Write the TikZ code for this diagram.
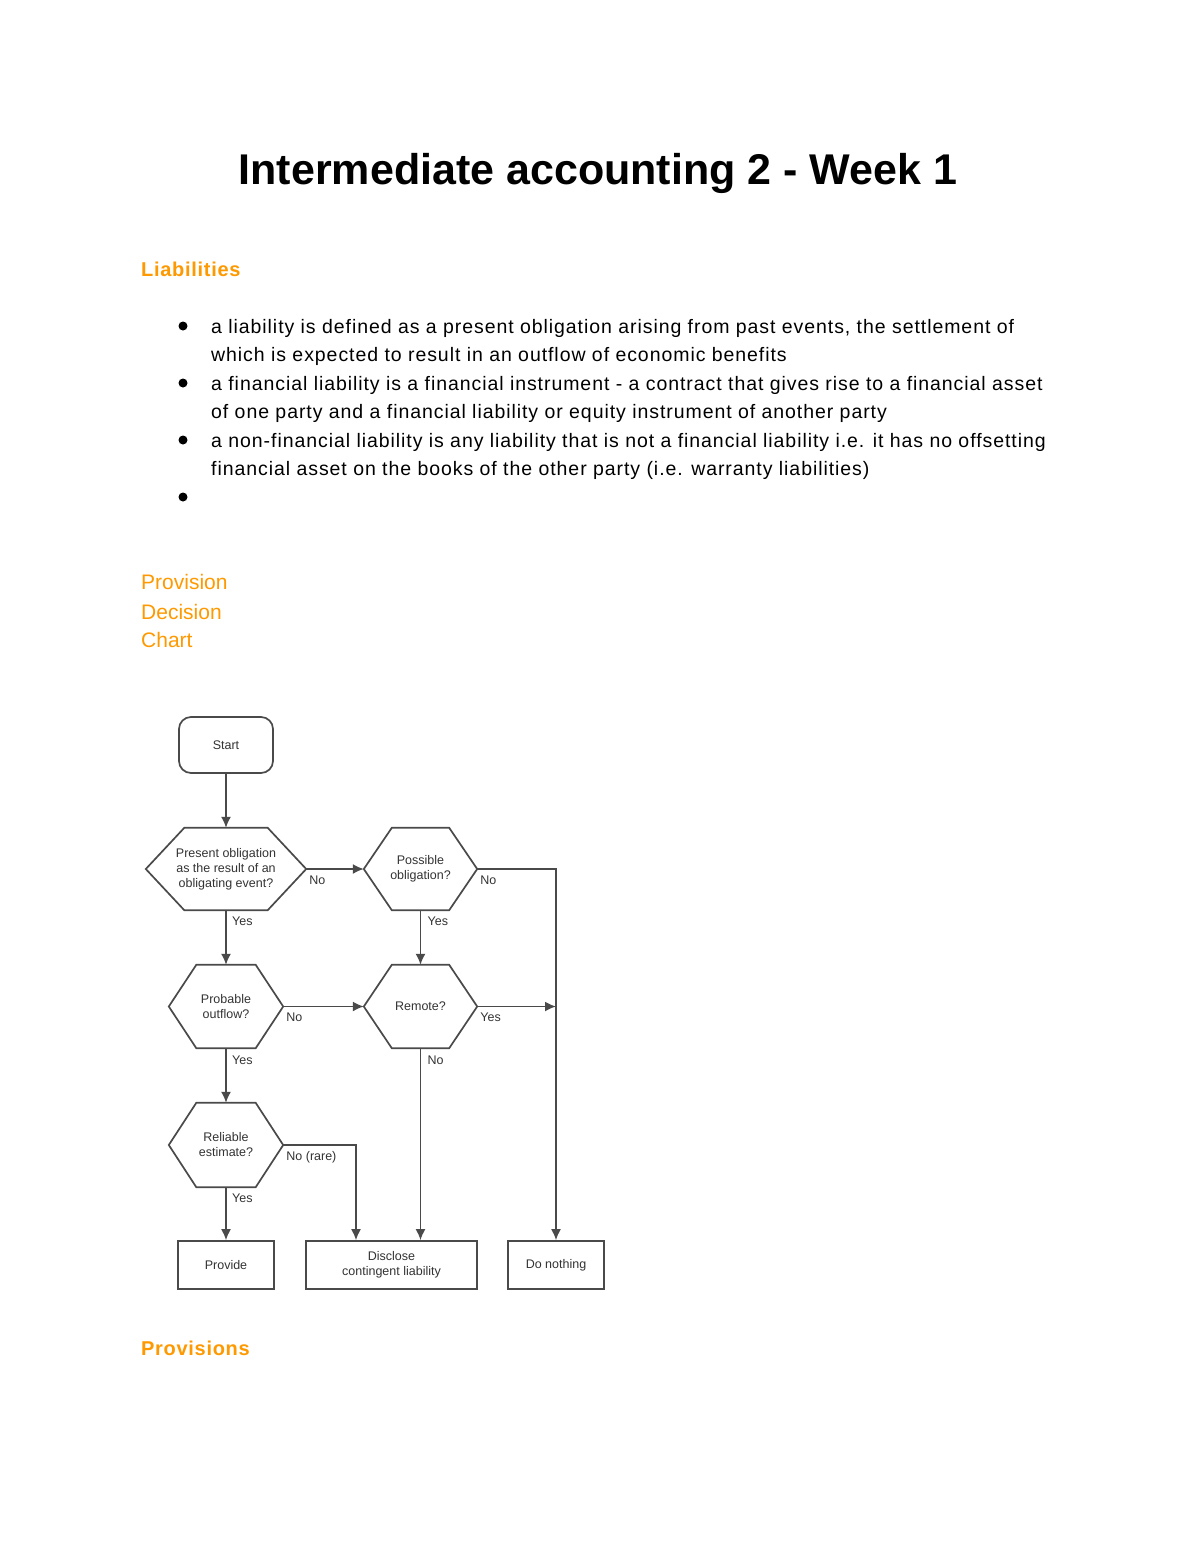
\documentclass[tikz,border=0pt]{standalone}
\usepackage{fontspec}
\setmainfont{Liberation Sans}
\newfontfamily\spacedfont[LetterSpace=4.8]{Liberation Sans}
\newfontfamily\headfont[LetterSpace=3.5]{Liberation Sans}
\usetikzlibrary{arrows.meta}
\definecolor{docorange}{HTML}{FF9900}
\definecolor{chartgray}{HTML}{4A4A4A}
\definecolor{charttext}{HTML}{333333}

% hexagon outline round a decision node: name, chamfer
\newcommand{\hexoutline}[2]{%
  \draw[chartline] (#1.west) -- ([xshift=#2]#1.north west) -- ([xshift=-#2]#1.north east)
    -- (#1.east) -- ([xshift=-#2]#1.south east) -- ([xshift=#2]#1.south west) -- cycle;}

\begin{document}
\begin{tikzpicture}[x=1pt, y=-1pt,
    chartline/.style={draw=chartgray, line width=1.7pt},
    flow/.style={chartline, -{Latex[length=11pt,width=10pt]}},
    hexa/.style={inner sep=0pt, align=center, text=charttext, font=\fontsize{12.5}{15}\selectfont},
    box/.style={chartline, inner sep=0pt, align=center, text=charttext, font=\fontsize{12.5}{15}\selectfont, minimum height=48pt},
    lbl/.style={anchor=west, inner sep=0pt, text=charttext, font=\fontsize{12.5}{14}\selectfont},
    body/.style={anchor=base west, inner sep=0pt, font=\spacedfont\fontsize{19.5}{23}\selectfont},
    head/.style={anchor=base west, inner sep=0pt, text=docorange, font=\fontsize{21}{25}\selectfont}]

    \fill[white] (0,0) rectangle (1200,1553);
    \useasboundingbox (0,0) rectangle (1200,1553);

    % page text
    \node[anchor=base, inner sep=0pt, font=\fontsize{43}{50}\selectfont\bfseries] (title) at (598,184) {Intermediate accounting 2 - Week 1};
    \node[head, font=\headfont\fontsize{20}{24}\selectfont\bfseries] (liabilities) at (141,276) {Liabilities};

    \foreach \y in {326,383,440,497}
        \fill (183,\y) circle (4.5pt);

    \node[body] (def1) at (211,333) {a liability is defined as a present obligation arising from past events, the settlement of};
    \node[body] (def1b) at (211,361) {which is expected to result in an outflow of economic benefits};
    \node[body] (def2) at (211,390) {a financial liability is a financial instrument - a contract that gives rise to a financial asset};
    \node[body] (def2b) at (211,418) {of one party and a financial liability or equity instrument of another party};
    \node[body] (def3) at (211,447) {a non-financial liability is any liability that is not a financial liability i.e. it has no offsetting};
    \node[body] (def3b) at (211,475) {financial asset on the books of the other party (i.e. warranty liabilities)};

    \node[head] (provision) at (141,589) {Provision};
    \node[head] (decision) at (141,619) {Decision};
    \node[head] (chart) at (141,647) {Chart};

    \node[head, font=\headfont\fontsize{20}{24}\selectfont\bfseries] (provisions) at (141,1355) {Provisions};

    % decision chart
    \node[chartline, rounded corners=12pt, minimum width=94pt, minimum height=56pt, text=charttext,
        font=\fontsize{12.5}{15}\selectfont] (start) at (226,745) {Start};

    \node[hexa, minimum width=160pt, minimum height=82pt] (present) at (226,869) {Present obligation\\as the result of an\\obligating event?};
    \node[hexa, minimum width=113pt, minimum height=82pt] (possible) at (420.5,869) {Possible\\obligation?};
    \node[hexa, minimum width=114pt, minimum height=83pt] (probable) at (226,1006.5) {Probable\\outflow?};
    \node[hexa, minimum width=113pt, minimum height=83pt] (remote) at (420.5,1006.5) {Remote?};
    \node[hexa, minimum width=114pt, minimum height=84pt] (reliable) at (226,1145) {Reliable\\estimate?};
    \hexoutline{present}{38.5pt}
    \hexoutline{possible}{28pt}
    \hexoutline{probable}{27.5pt}
    \hexoutline{remote}{28pt}
    \hexoutline{reliable}{27.5pt}

    \node[box, minimum width=96pt] (provide) at (226,1265) {Provide};
    \node[box, minimum width=171pt] (disclose) at (391.5,1265) {Disclose\\contingent liability};
    \node[box, minimum width=96pt] (nothing) at (556,1265) {Do nothing};

    \coordinate (remoteend) at (nothing.north |- remote.east);
    \coordinate (rareend) at ([xshift=-35.5pt]disclose.north);

    \draw[flow] (start) -- (present);
    \draw[flow] (present) -- (probable);
    \draw[flow] (probable) -- (reliable);
    \draw[flow] (reliable) -- (provide);
    \draw[flow] (present) -- (possible);
    \draw[flow] (possible) -- (remote);
    \draw[flow] (probable) -- (remote);
    \draw[flow] (possible.east) -| (nothing.north);
    \draw[flow] (remote.east) -- (remoteend);
    \draw[flow] (remote.south) -- (remote.south |- disclose.north);
    \draw[flow] (reliable.east) -| (rareend);

    \node[lbl] at ([xshift=3pt,yshift=-11pt]present.east) {No};
    \node[lbl] at ([xshift=3pt,yshift=-11pt]possible.east) {No};
    \node[lbl] at ([xshift=3pt,yshift=-11pt]probable.east) {No};
    \node[lbl] at ([xshift=3pt,yshift=-11pt]remote.east) {Yes};
    \node[lbl] at ([xshift=3pt,yshift=-12pt]reliable.east) {No (rare)};
    \node[lbl] at ([xshift=6pt,yshift=-11pt]present.south) {Yes};
    \node[lbl] at ([xshift=7pt,yshift=-11pt]possible.south) {Yes};
    \node[lbl] at ([xshift=6pt,yshift=-12pt]probable.south) {Yes};
    \node[lbl] at ([xshift=7pt,yshift=-12pt]remote.south) {No};
    \node[lbl] at ([xshift=6pt,yshift=-11pt]reliable.south) {Yes};
\end{tikzpicture}
\end{document}
